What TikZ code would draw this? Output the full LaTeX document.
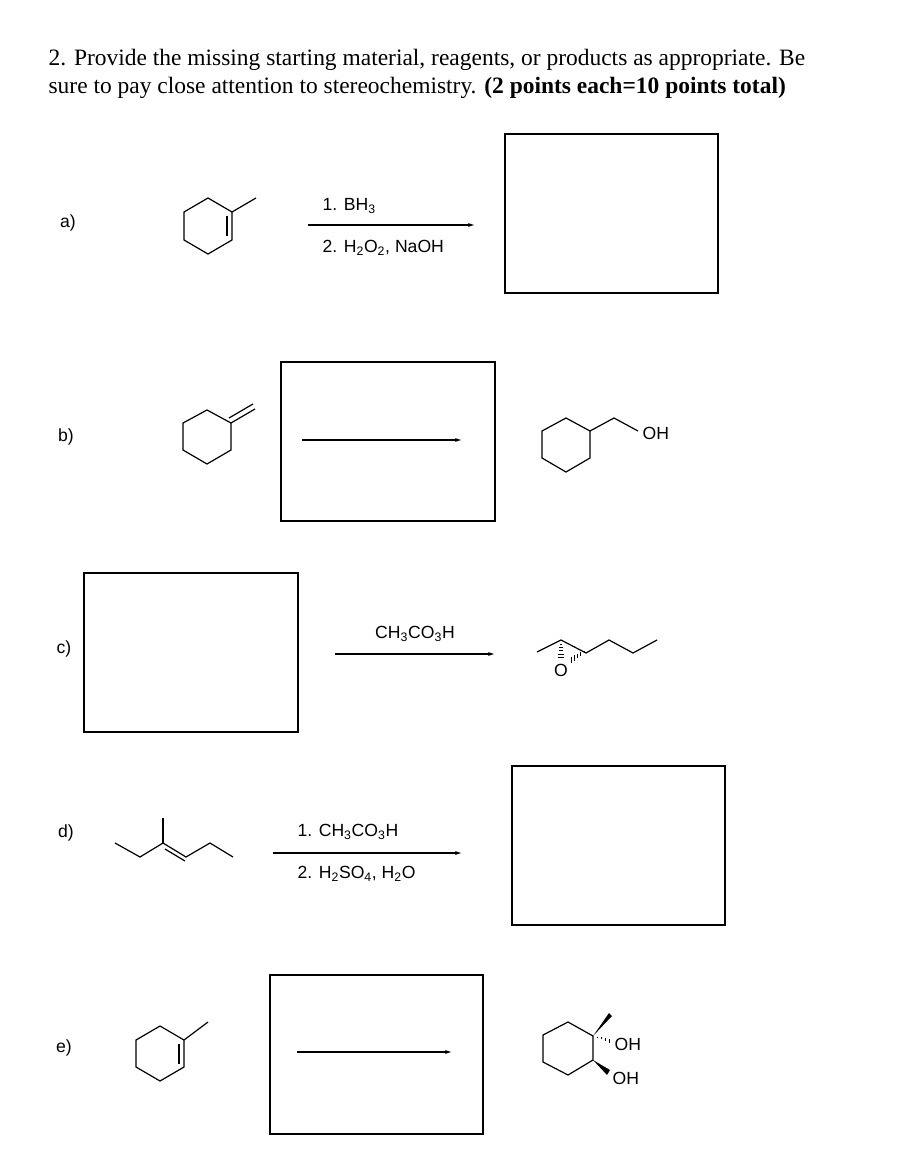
\documentclass[tikz,border=0pt]{standalone}
\usepackage{fontspec}
\setmainfont{Liberation Serif}
\setsansfont{Liberation Sans}
\usetikzlibrary{arrows.meta,calc}
\begin{document}
\begin{tikzpicture}[x=0.75pt,y=-0.75pt,line width=0.9pt,
  box/.style={draw,line width=0.8pt},
  rxn/.style={-{Latex[length=5pt,width=3pt]},line width=0.8pt},
  lab/.style={font=\sffamily\fontsize{13.2}{15}\selectfont,inner sep=0pt},
  bnd/.style={line width=0.9pt}]
\path[use as bounding box] (0,0) rectangle (908,1162);
\node[anchor=west,inner sep=0,font=\fontsize{17.6}{20}\selectfont] (t1) at (48,60) {2. Provide the missing starting material, reagents, or products as appropriate. Be};
\node[anchor=west,inner sep=0,font=\fontsize{17.6}{20}\selectfont] (t2) at (48,88) {sure to pay close attention to stereochemistry. \textbf{(2 points each=10 points total)}};
% labels
\node[lab] (la) at (68,223) {a)};
\node[lab] (lb) at (66,437) {b)};
\node[lab] (lc) at (64,649) {c)};
\node[lab] (ld) at (66,833) {d)};
\node[lab] (le) at (64,1048) {e)};
% boxes
\draw[box] (505,134) rectangle (718,293);
\draw[box] (281,362) rectangle (495,521);
\draw[box] (84,573) rectangle (298,732);
\draw[box] (512,766) rectangle (725,925);
\draw[box] (270,975) rectangle (483,1134);
% arrows
\coordinate (a1) at (308,225); \coordinate (a2) at (475,225);
\draw[rxn] (a1) -- (a2);
\coordinate (b1) at (302,440); \coordinate (b2) at (462,440);
\draw[rxn] (b1) -- (b2);
\coordinate (c1) at (335,654); \coordinate (c2) at (495,654);
\draw[rxn] (c1) -- (c2);
\coordinate (d1) at (273,853); \coordinate (d2) at (462,853);
\draw[rxn] (d1) -- (d2);
\coordinate (e1) at (297,1052); \coordinate (e2) at (452,1052);
\draw[rxn] (e1) -- (e2);
% reagent labels
\node[lab,anchor=west] (ra1) at (322,206) {1. BH\textsubscript{3}};
\node[lab,anchor=west] (ra2) at (322,248) {2. H\textsubscript{2}O\textsubscript{2}, NaOH};
\node[lab] (rc) at (415,634) {CH\textsubscript{3}CO\textsubscript{3}H};
\node[lab,anchor=west] (rd1) at (297,832) {1. CH\textsubscript{3}CO\textsubscript{3}H};
\node[lab,anchor=west] (rd2) at (297,874) {2. H\textsubscript{2}SO\textsubscript{4}, H\textsubscript{2}O};
% a) 1-methylcyclohexene
\draw[bnd] (208,198)--(232,212)--(232,240)--(208,254)--(184,240)--(184,212)--cycle;
\draw[bnd] (232,212)--(256,198);
\draw[bnd] (227,216)--(227,236);
% b) methylenecyclohexane
\draw[bnd] (207,410)--(231,423)--(231,450)--(207,464)--(183,450)--(183,423)--cycle;
\draw[bnd] (231,423)--(255,409);
\draw[bnd] (229,418)--(253,404);
% b product
\draw[bnd] (566,418)--(590,431)--(590,458)--(566,472)--(542,458)--(542,431)--cycle;
\draw[bnd] (590,431)--(614,418)--(638,431);
\node[lab,anchor=west] (ohb) at (642,433) {OH};
% c) epoxide
\draw[bnd] (537,652)--(561,640)--(586,653)--(609,640)--(633,653)--(657,640);
\node[lab] (oc) at (561,670) {O};
\foreach \i in {0,...,4} \draw[line width=0.7pt] ($(561,644)!\i/5!(561,661)$) ++(-1-0.6*\i,0) -- ++(2+1.2*\i,0);
\foreach \i in {0,...,4} \draw[line width=0.7pt] ($(584,652)!\i/5!(568,662)$) ++(0,-1-0.6*\i) -- ++(0,2+1.2*\i);
% d) alkene
\draw[bnd] (115,843)--(140,857)--(163,843)--(186,857)--(210,843)--(233,857);
\draw[bnd] (163,843)--(163,818);
\draw[bnd] (165,849)--(185,861);
% e) 1-methylcyclohexene
\draw[bnd] (160,1026)--(184,1040)--(184,1067)--(160,1081)--(136,1067)--(136,1040)--cycle;
\draw[bnd] (184,1040)--(208,1022);
\draw[bnd] (179,1044)--(179,1064);
% e product
\draw[bnd] (568,1022)--(593,1036)--(593,1060)--(568,1075)--(543,1062)--(543,1035)--cycle;
\fill (593,1036)--(609,1013)--(612,1016)--cycle;
\fill (593,1060)--(607,1075)--(610,1070)--cycle;
\foreach \i in {1,...,4} \draw[line width=0.7pt] ($(593,1036)!\i/5!(614,1042)$) ++(0,-0.5*\i) -- ++(0,\i);
\node[lab,anchor=west] (oh1) at (614,1044) {OH};
\node[lab,anchor=west] (oh2) at (612,1078) {OH};
\end{tikzpicture}
\end{document}
